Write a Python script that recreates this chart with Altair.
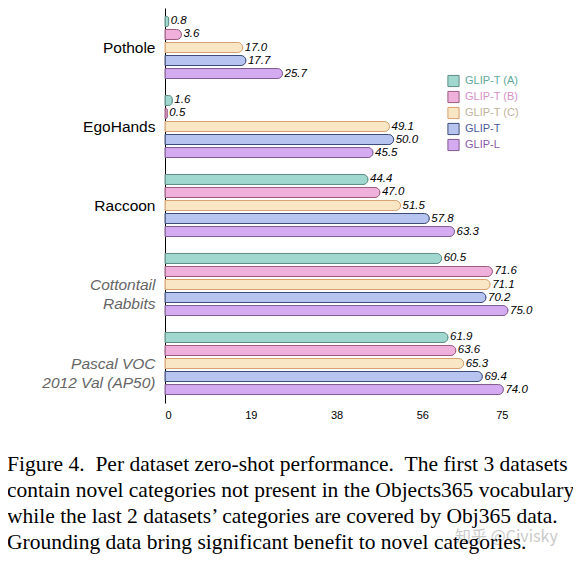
import altair as alt
import pandas as pd

datasets = ["Pothole", "EgoHands", "Raccoon", "Cottontail Rabbits", "Pascal VOC 2012 Val (AP50)"]
models = ["GLIP-T (A)", "GLIP-T (B)", "GLIP-T (C)", "GLIP-T", "GLIP-L"]

glip_t_a = [0.8, 1.6, 44.4, 60.5, 61.9]
glip_t_b = [3.6, 0.5, 47.0, 71.6, 63.6]
glip_t_c = [17.0, 49.1, 51.5, 71.1, 65.3]
glip_t = [17.7, 50.0, 57.8, 70.2, 69.4]
glip_l = [25.7, 45.5, 63.3, 75.0, 74.0]

fill_colors = ["#A0D8D0", "#F0B0DC", "#F8E6C4", "#B8C4F0", "#D4AAF0"]
stroke_colors = ["#5E8C86", "#9A5C80", "#D8A070", "#3C4C78", "#805C90"]
label_colors = ["#5FA8A0", "#D890C8", "#C0B49C", "#4C5C9C", "#8A58A8"]

x_ticks = [0, 18.75, 37.5, 56.25, 75]

caption = [
    "Figure 4.\u2002Per dataset zero-shot performance.\u2002The first 3 datasets",
    "contain novel categories not present in the Objects365 vocabulary",
    "while the last 2 datasets\u2019 categories are covered by Obj365 data.",
    "Grounding data bring significant benefit to novel categories.",
]
watermark = "知乎 @Civisky"

series = [glip_t_a, glip_t_b, glip_t_c, glip_t, glip_l]
rows = []
for m, vals in zip(models, series):
    for d, v in zip(datasets, vals):
        rows.append({"dataset": d, "model": m, "value": v})
df = pd.DataFrame(rows)

italic_test = "datum.value == 'Cottontail Rabbits' || datum.value == 'Pascal VOC 2012 Val (AP50)'"
label_expr = (
    "datum.value == 'Cottontail Rabbits' ? ['Cottontail', 'Rabbits'] : "
    "datum.value == 'Pascal VOC 2012 Val (AP50)' ? ['Pascal VOC', '2012 Val (AP50)'] : datum.value"
)

legend_color_expr = " : ".join(
    f"datum.label == '{m}' ? '{c}'" for m, c in zip(models, label_colors)
) + " : 'black'"

legend = alt.Legend(
    title=None,
    orient="none",
    legendX=282,
    legendY=65,
    symbolType="square",
    symbolSize=125,
    symbolStrokeWidth=1,
    labelFont="Liberation Sans",
    labelFontSize=11,
    labelOffset=5,
    rowPadding=0,
    clipHeight=16,
    padding=0,
    labelColor={"expr": legend_color_expr},
)

y_enc = alt.Y(
    "dataset:N",
    sort=datasets,
    scale=alt.Scale(paddingInner=0, paddingOuter=0),
    axis=alt.Axis(
        title=None,
        ticks=False,
        domainColor="black",
        domainWidth=1,
        labelFont="Liberation Sans",
        labelFontSize=15.5,
        labelPadding=10,
        labelLineHeight=19,
        labelExpr=label_expr,
        labelColor={"condition": {"test": italic_test, "value": "#666666"}, "value": "black"},
        labelFontStyle={"condition": {"test": italic_test, "value": "italic"}, "value": "normal"},
    ),
)
yoff_enc = alt.YOffset(
    "model:N", sort=models, scale=alt.Scale(paddingInner=0.23, paddingOuter=0.65)
)
x_enc = alt.X(
    "value:Q",
    scale=alt.Scale(domain=[0, 75], nice=False),
    axis=alt.Axis(
        title=None,
        values=x_ticks,
        format=".0f",
        domain=False,
        ticks=False,
        grid=False,
        labelFont="Liberation Sans",
        labelFontSize=11,
        labelColor="black",
        labelPadding=6,
    ),
)

base = alt.Chart(df).encode(y=y_enc, yOffset=yoff_enc, x=x_enc)

bars = base.mark_bar(cornerRadiusEnd=5, strokeWidth=1).encode(
    fill=alt.Fill("model:N", sort=models, scale=alt.Scale(domain=models, range=fill_colors), legend=legend),
    stroke=alt.Stroke("model:N", sort=models, scale=alt.Scale(domain=models, range=stroke_colors), legend=legend),
)

labels = base.mark_text(
    align="left",
    baseline="middle",
    dx=2,
    font="Liberation Sans",
    fontSize=11.5,
    fontStyle="italic",
    color="black",
).encode(text=alt.Text("value:Q", format=".1f"))

wm = alt.Chart(pd.DataFrame({"t": [watermark]})).mark_text(
    align="left",
    baseline="middle",
    font="Noto Sans CJK SC",
    fontSize=16,
    color="#b8b8b8",
    opacity=0.75,
).encode(text="t:N", x=alt.value(290), y=alt.value(529))

chart = (
    alt.layer(bars, labels, wm)
    .properties(
        width=343,
        height=395,
        autosize=alt.AutoSizeParams(type="none"),
        padding={"left": 157, "top": 0, "right": 65, "bottom": 155},
        title=alt.TitleParams(
            text=caption,
            orient="bottom",
            anchor="start",
            frame="group",
            dx=-158,
            offset=-91,
            font="Liberation Serif",
            fontSize=21.5,
            fontWeight="normal",
            color="black",
            lineHeight=26,
            baseline="top",
        ),
    )
    .configure_view(stroke=None)
)

chart.save("out.html", embed_options={"renderer": "svg", "actions": False})
